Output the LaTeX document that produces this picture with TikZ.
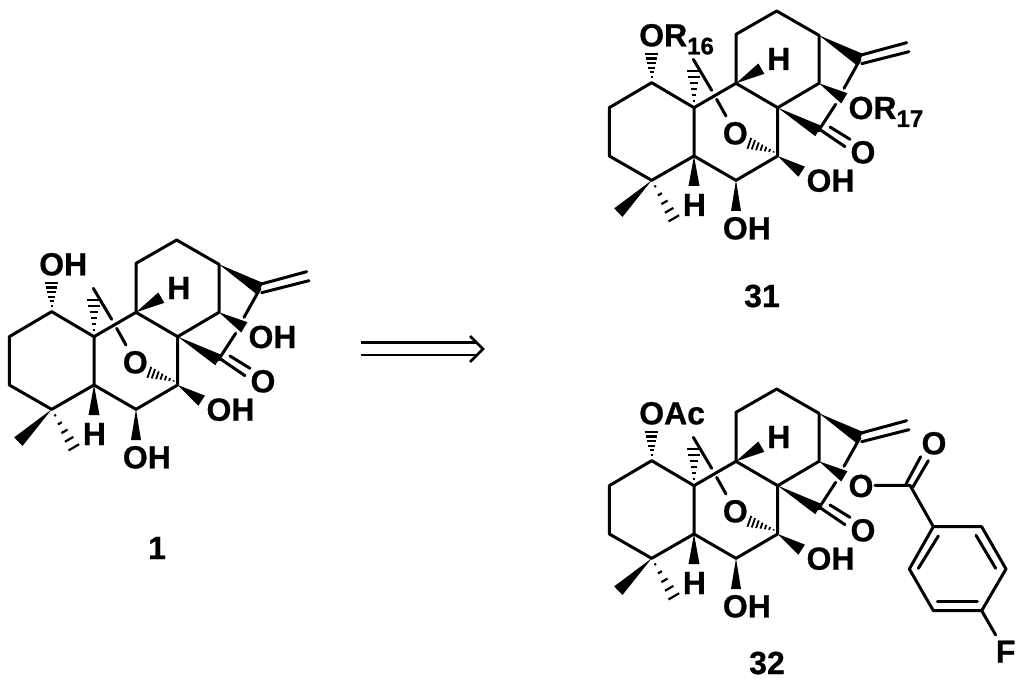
\documentclass[tikz,border=0pt]{standalone}
\usepackage{fontspec}
\setmainfont{Liberation Sans}[BoldFeatures={FakeBold=0.7}]
\usetikzlibrary{calc}
\tikzset{
  bond/.style={line width=3pt,line cap=round,line join=round},
  hashln/.style={line width=2.2pt},
  thinhash/.style={line width=1.8pt},
  atom/.style={inner sep=0pt,anchor=base west,font=\fontsize{32}{32}\selectfont\bfseries},
  unit/.style={shift={(#1)},x=0.33333pt,y=-0.33333pt}
}
\newcommand{\sbt}[1]{\raisebox{-8pt}{\fontsize{24}{24}\selectfont #1}}
\newcommand{\wdg}[3]{\fill ($(#2)!#3pt!90:(#1)$) -- (#1) -- ($(#2)!#3pt!-90:(#1)$) -- cycle;}
\newcommand{\hsh}[5][hashln]{\foreach \i in {1,...,#5}{
  \pgfmathsetmacro\hT{(\i-0.25)/#5}
  \pgfmathsetmacro\hW{#4*\hT}
  \coordinate (hp) at ($(#2)!\hT!(#3)$);
  \draw[#1] ($(hp)!\hW pt!90:(#3)$) -- ($(hp)!\hW pt!-90:(#3)$);}}
% #1 prefix, #2 shift, #3 top label, #4 right label
\newcommand{\molecule}[4]{
\begin{scope}[unit={#2}]
  \coordinate (#1c1) at (155,245); \coordinate (#1c2) at (28,320);
  \coordinate (#1c3) at (28,465); \coordinate (#1c4) at (155,538);
  \coordinate (#1c5) at (282,465); \coordinate (#1c6) at (408,538);
  \coordinate (#1c7) at (533,465); \coordinate (#1c8) at (533,320);
  \coordinate (#1c9) at (408,247); \coordinate (#1c10) at (282,320);
  \coordinate (#1c11) at (408,100); \coordinate (#1c12) at (530,30);
  \coordinate (#1c13) at (657,103); \coordinate (#1c14) at (657,247);
  \coordinate (#1c15) at (655,390); \coordinate (#1c16) at (780,176);
  \coordinate (#1oh14) at (733,292); \coordinate (#1b16) at (732,262);
  \coordinate (#1b15) at (707,310);
  \coordinate (#1me1) at (55,635); \coordinate (#1me2) at (225,658);
  \coordinate (#1wH9) at (484,203); \coordinate (#1wH5) at (282,555);
  \coordinate (#1w6) at (408,630); \coordinate (#1w7) at (605,512);
  \coordinate (#1h1a) at (155,238); \coordinate (#1h1b) at (155,155);
  \coordinate (#1h10a) at (282,314); \coordinate (#1h10b) at (282,205);
  \coordinate (#1hOa) at (530,456); \coordinate (#1hOb) at (445,426);
  \coordinate (#1br) at (280,175); \coordinate (#1bra) at (335,268);
  \coordinate (#1brb) at (350,295); \coordinate (#1brc) at (378,345);
  \coordinate (#1d1) at (660,386); \coordinate (#1d2) at (735,437);
  \coordinate (#1d3) at (690,378); \coordinate (#1d4) at (750,415);
  \coordinate (#1e1) at (780,163); \coordinate (#1e2) at (920,125);
  \coordinate (#1e3) at (785,188); \coordinate (#1e4) at (927,152);
  \draw[bond] (#1c1) -- (#1c2) -- (#1c3) -- (#1c4) -- (#1c5) -- (#1c10) -- cycle;
  \draw[bond] (#1c10) -- (#1c9) -- (#1c8) -- (#1c7) -- (#1c6) -- (#1c5);
  \draw[bond] (#1c9) -- (#1c11) -- (#1c12) -- (#1c13) -- (#1c14) -- (#1c8);
  \draw[bond] (#1c16) -- (#1b16);
  \draw[bond] (#1c15) -- (#1b15);
  \draw[bond] (#1d1) -- (#1d2);
  \draw[bond] (#1d3) -- (#1d4);
  \draw[bond] (#1e1) -- (#1e2);
  \draw[bond] (#1e3) -- (#1e4);
  \draw[bond] (#1br) -- (#1bra);
  \draw[bond] (#1brb) -- (#1brc);
  \wdg{#1c13}{#1c16}{6.5}
  \wdg{#1c14}{#1oh14}{6}
  \wdg{#1c8}{#1c15}{6}
  \wdg{#1c9}{#1wH9}{6}
  \wdg{#1c5}{#1wH5}{5.5}
  \wdg{#1c6}{#1w6}{5}
  \wdg{#1c7}{#1w7}{6}
  \wdg{#1c4}{#1me1}{6}
  \hsh{#1h1a}{#1h1b}{7}{6}
  \hsh{#1h10a}{#1h10b}{7}{6}
  \hsh{#1c4}{#1me2}{6.5}{5}
  \hsh[thinhash]{#1hOa}{#1hOb}{6}{7}
  \node[atom] (#1top) at (117,136) {#3};
  \node[atom] (#1right) at (745,354) {#4};
  \node[atom] (#1H9) at (501,207) {H};
  \node[atom] (#1H5) at (248,645) {H};
  \node[atom] (#1O) at (368,430) {O};
  \node[atom] (#1Oc) at (751,487) {O};
  \node[atom] (#1OH7) at (619,572) {OH};
  \node[atom] (#1OH6) at (368,715) {OH};
\end{scope}}
\begin{document}
\begin{tikzpicture}[x=1pt,y=-1pt]
\useasboundingbox (0,0) rectangle (1024,685);
\molecule{a}{0,230}{OH}{OH}
\molecule{b}{600,1}{OR\sbt{16}}{OR\sbt{17}}
\molecule{k}{600,379}{OAc}{O}
% benzoate of 32
\begin{scope}[unit={830,410}]
  \coordinate (cb) at (240,226);
  \coordinate (cd1) at (228,222); \coordinate (cd2) at (272,140);
  \coordinate (cd3) at (248,232); \coordinate (cd4) at (295,152);
  \coordinate (r1) at (310,350); \coordinate (r2) at (455,350);
  \coordinate (r3) at (528,477); \coordinate (r4) at (455,602);
  \coordinate (r5) at (310,602); \coordinate (r6) at (238,477);
  \coordinate (i1) at (325,378); \coordinate (i2) at (265,475);
  \coordinate (i3) at (438,376); \coordinate (i4) at (497,475);
  \coordinate (i5) at (322,575); \coordinate (i6) at (442,575);
  \coordinate (fb) at (497,675);
  \draw[bond] (kright.east |- cb) ++(4,0) -- (cb) -- (r1) -- (r2) -- (r3) -- (r4) -- (r5) -- (r6) -- (r1);
  \draw[bond] (cd1) -- (cd2);
  \draw[bond] (cd3) -- (cd4);
  \draw[bond] (i1) -- (i2);
  \draw[bond] (i3) -- (i4);
  \draw[bond] (i5) -- (i6);
  \draw[bond] (r4) -- (fb);
  \node[atom] (oben) at (274,133) {O};
  \node[atom] (fatom) at (497,758) {F};
\end{scope}
% retrosynthesis arrow
\coordinate (ar1) at (361,342.7); \coordinate (ar2) at (477,342.7);
\coordinate (ar3) at (361,355); \coordinate (ar4) at (477,355);
\coordinate (ar5) at (470,336); \coordinate (ar6) at (483,349); \coordinate (ar7) at (470,362);
\draw[line width=2.6pt] (ar1) -- (ar2);
\draw[line width=2.6pt] (ar3) -- (ar4);
\draw[line width=2.6pt,line join=miter] (ar5) -- (ar6) -- (ar7);
% compound numbers
\node[atom] (n1) at (148,559) {1};
\node[atom] (n31) at (744,307) {31};
\node[atom] (n32) at (749,674) {32};
\end{tikzpicture}
\end{document}
